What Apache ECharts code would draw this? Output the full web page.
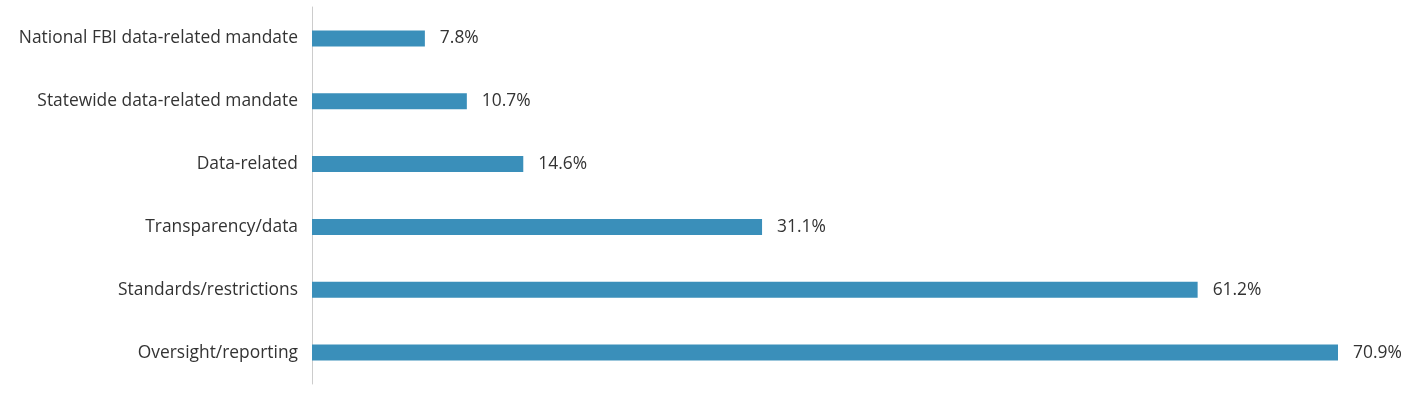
<!DOCTYPE html>
<html>
<head>
<meta charset="utf-8">
<script src="https://cdn.jsdelivr.net/npm/echarts@6/dist/echarts.min.js"></script>
<style>
    html, body { margin: 0; padding: 0; background: #fff; }
    #chart { width: 1425px; height: 399px; }
</style>
</head>
<body>
<div id="chart"></div>
<script>
// categories, top to bottom
var categories = [
    'National FBI data-related mandate',
    'Statewide data-related mandate',
    'Data-related',
    'Transparency/data',
    'Standards/restrictions',
    'Oversight/reporting'
];
var values = [7.8, 10.7, 14.6, 31.1, 61.2, 70.9];

var myChart = echarts.init(document.getElementById('chart'));

var option = {
    animation: false,
    grid: {
        left: 312,
        right: 87,
        top: 7,
        height: 377
    },
    xAxis: {
        type: 'value',
        min: 0,
        max: 70.9,
        show: false
    },
    yAxis: {
        type: 'category',
        inverse: true,
        data: categories,
        axisLine: { show: true, lineStyle: { color: '#cccccc', width: 1 } },
        axisTick: { show: false },
        axisLabel: {
            color: '#333333',
            fontFamily: 'Open Sans',
            fontSize: 17.4,
            margin: 14
        }
    },
    series: [
        {
            type: 'bar',
            data: values,
            barWidth: 16,
            itemStyle: { color: '#3a8fba' },
            label: {
                show: true,
                position: 'right',
                distance: 15,
                color: '#333333',
                fontFamily: 'Open Sans',
                fontSize: 17.4,
                formatter: function (p) { return p.value.toFixed(1) + '%'; }
            }
        }
    ]
};

myChart.setOption(option);
</script>
</body>
</html>
